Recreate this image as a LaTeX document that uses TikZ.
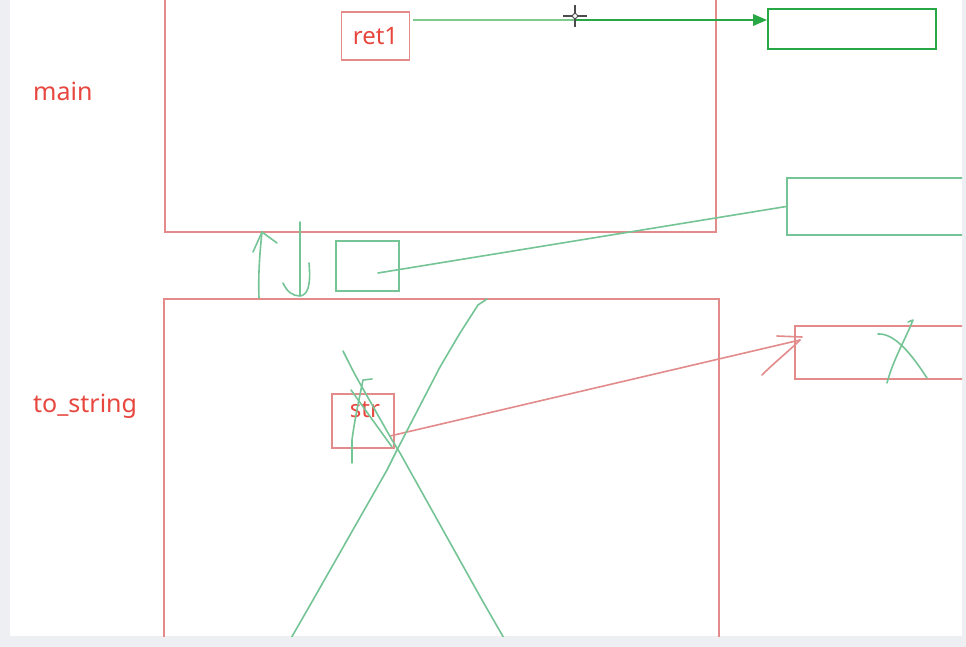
\documentclass[tikz,border=0pt]{standalone}
\usepackage{fontspec}
\setmainfont{Noto Sans}
\usetikzlibrary{arrows.meta}
\definecolor{bg}{HTML}{EEEFF3}
\definecolor{fr}{HTML}{E38B8B}
\definecolor{tr}{HTML}{E8473F}
\definecolor{pg}{HTML}{74C495}
\definecolor{ag}{HTML}{27A844}
\begin{document}
\begin{tikzpicture}[x=1pt,y=-1pt,
  rbox/.style={draw=fr,line width=1.6pt,inner sep=0pt},
  gbox/.style={draw=pg,line width=1.6pt,inner sep=0pt},
  pen/.style={draw=pg,line width=1.6pt,line cap=round,line join=round},
  rpen/.style={draw=fr,line width=1.6pt,line cap=round,line join=round},
  lbl/.style={text=tr,font=\fontsize{25}{30}\selectfont,inner sep=0pt},
  vtxt/.style={text=tr,font=\fontsize{24}{28}\selectfont,inner sep=0pt}]
\useasboundingbox (0,0) rectangle (966,647);
\fill[bg] (0,0) rectangle (966,647);
\fill[white] (10,0) rectangle (962,636);
\begin{scope}
\clip (10,0) rectangle (962,636);
% frames
\node[rbox,minimum width=551pt,minimum height=252pt] (main) at (440.5,106) {};
\node[rbox,minimum width=555pt,minimum height=357pt] (ts) at (441.5,477.5) {};
\node[lbl,anchor=base west] (mainlbl) at (33,101) {main};
\node[lbl,anchor=base west] (tslbl) at (33,412) {to\_string};
% ret1
\node[rbox,minimum width=68pt,minimum height=48pt,vtxt] (ret1) at (375.5,36) {ret1};
\node[draw=ag,line width=1.6pt,inner sep=0pt,minimum width=168pt,minimum height=40pt] (heap1) at (852,29) {};
\coordinate (a1s) at (413,20);
\draw[ag!60,line width=1.6pt] (a1s) -- (575,20);
\draw[ag,line width=2.8pt,-{Triangle[length=14pt,width=11pt]}] (575,20) -- (heap1.west |- a1s);
% cursor
\draw[black!70,line width=1.2pt] (563,16) -- (587,16) (575,5) -- (575,27);
\draw[black!70,line width=0.9pt,fill=white] (575,16) circle (2.5);
% small green box and link
\node[gbox,minimum width=63pt,minimum height=50pt] (sg) at (367.5,266) {};
\node[gbox,minimum width=203pt,minimum height=57pt] (rg) at (888.5,206.5) {};
\coordinate (p1) at (378,273);
\draw[pen] (p1) -- (rg.west);
% up / down arrows
\draw[pen] (259,298) .. controls (258,275) and (260,250) .. (262,232);
\draw[pen] (253,252) -- (262,232) -- (277,243);
\draw[pen] (300,222) -- (300,295);
\draw[pen] (283,283) .. controls (287,292) and (293,296) .. (300,296) .. controls (308,295) and (311,285) .. (309,263);
% str
\node[rbox,minimum width=62pt,minimum height=54pt] (strbox) at (363,421) {};
\node[vtxt] (strtxt) at (365,410) {str};
\node[rbox,minimum width=195pt,minimum height=53pt] (rr) at (892.5,352.5) {};
\coordinate (p2) at (390,436);
\coordinate (p3) at (800,340);
\draw[rpen] (p2) -- (p3);
\draw[rpen] (777,336) -- (802,337);
\draw[rpen] (800,340) .. controls (790,350) and (775,362) .. (762,375);
% X on red box
\draw[pen] (908,322) -- (913,320) .. controls (905,340) and (893,360) .. (887,383);
\draw[pen] (878,334) .. controls (895,333) and (912,355) .. (927,378);
% big X on to_string
\draw[pen] (343,351) .. controls (350,365) and (356,377) .. (362,387) -- (392,440) -- (400,453) -- (482,600) -- (505,640);
\draw[pen] (487,299) -- (478,305) -- (460,333) -- (440,367) -- (397,450) -- (387,470) -- (313,600) -- (290,640);
\draw[pen] (351,390) -- (392,447);
\draw[pen] (372,379) -- (363,380) .. controls (360,395) and (355,417) .. (352,440) -- (352,463);
\end{scope}
\end{tikzpicture}
\end{document}
